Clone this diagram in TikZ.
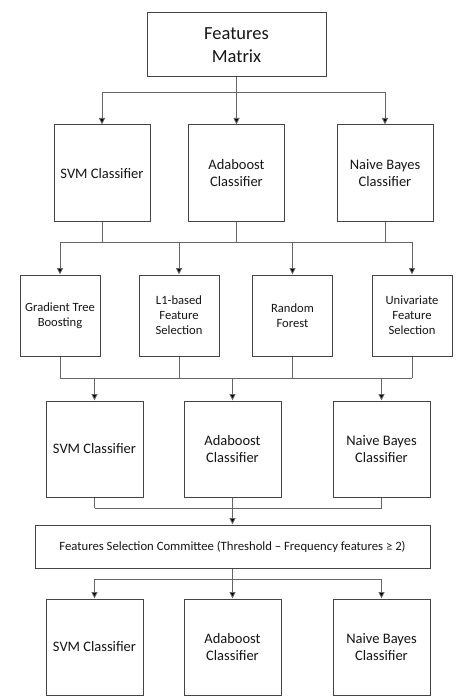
\documentclass[tikz,border=0pt]{standalone}
\usepackage{fontspec}
\setmainfont{Carlito}
\usetikzlibrary{arrows.meta}
\definecolor{boxc}{HTML}{444444}
\definecolor{linec}{HTML}{666666}
\definecolor{txt}{HTML}{161616}
\tikzset{
  box/.style={draw=boxc, line width=1pt, fill=white, text=txt, align=center, inner sep=2pt},
  ln/.style={draw=linec, line width=0.9pt},
  arr/.style={ln, -{Triangle[length=6.5pt,width=6pt,fill=black]}},
  bigt/.style={font=\fontsize{18.5}{23}\selectfont},
  medt/.style={font=\fontsize{14.5}{17}\selectfont},
  smt/.style={font=\fontsize{12.6}{15}\selectfont},
  comt/.style={font=\fontsize{12.7}{14}\selectfont},
}
\begin{document}
\begin{tikzpicture}[x=1pt,y=-1pt]
\useasboundingbox (0,0) rectangle (474,700);
% top
\node[box,bigt,minimum width=179pt,minimum height=64pt] (fm) at (236.5,45) {Features\\Matrix};
% row 1
\node[box,medt,minimum width=96pt,minimum height=97pt] (s1) at (102,173.5) {SVM Classifier};
\node[box,medt,minimum width=96pt,minimum height=97pt] (a1) at (236.5,173.5) {Adaboost\\Classifier};
\node[box,medt,minimum width=96pt,minimum height=97pt] (n1) at (385,173.5) {Naive Bayes\\Classifier};
% row 2
\node[box,smt,minimum width=80pt,minimum height=81pt] (g2) at (60,315.5) {Gradient Tree\\Boosting};
\node[box,smt,minimum width=80pt,minimum height=81pt] (l2) at (179,315.5) {L1-based\\Feature\\Selection};
\node[box,smt,minimum width=80pt,minimum height=81pt] (r2) at (292.5,315.5) {Random\\Forest};
\node[box,smt,minimum width=80pt,minimum height=81pt] (u2) at (412,315.5) {Univariate\\Feature\\Selection};
% row 3
\node[box,medt,minimum width=97pt,minimum height=96pt] (s3) at (94.5,449) {SVM Classifier};
\node[box,medt,minimum width=97pt,minimum height=96pt] (a3) at (232.5,449) {Adaboost\\Classifier};
\node[box,medt,minimum width=97pt,minimum height=96pt] (n3) at (381.5,449) {Naive Bayes\\Classifier};
% committee
\node[box,comt,minimum width=395pt,minimum height=43pt] (c) at (232.5,546.5) {Features Selection Committee (Threshold – Frequency features ≥ 2)};
% row 4
\node[box,medt,minimum width=97pt,minimum height=96pt] (s4) at (94.5,647) {SVM Classifier};
\node[box,medt,minimum width=97pt,minimum height=96pt] (a4) at (232.5,647) {Adaboost\\Classifier};
\node[box,medt,minimum width=97pt,minimum height=96pt] (n4) at (381.5,647) {Naive Bayes\\Classifier};
% junction levels
\coordinate (h1) at (0,92);
\coordinate (h2) at (0,242);
\coordinate (h3) at (0,378);
\coordinate (h4) at (0,508);
\coordinate (h5) at (0,579);
% features matrix -> row 1
\draw[ln] (fm.south) -- (fm.south |- h1);
\draw[ln] (s1.north |- h1) -- (n1.north |- h1);
\draw[arr] (s1.north |- h1) -- (s1.north);
\draw[arr] (a1.north |- h1) -- (a1.north);
\draw[arr] (n1.north |- h1) -- (n1.north);
% row 1 -> row 2
\draw[ln] (s1.south) -- (s1.south |- h2);
\draw[ln] (a1.south) -- (a1.south |- h2);
\draw[ln] (n1.south) -- (n1.south |- h2);
\draw[ln] (g2.north |- h2) -- (u2.north |- h2);
\draw[arr] (g2.north |- h2) -- (g2.north);
\draw[arr] (l2.north |- h2) -- (l2.north);
\draw[arr] (r2.north |- h2) -- (r2.north);
\draw[arr] (u2.north |- h2) -- (u2.north);
% row 2 -> row 3
\draw[ln] (g2.south) -- (g2.south |- h3);
\draw[ln] (l2.south) -- (l2.south |- h3);
\draw[ln] (r2.south) -- (r2.south |- h3);
\draw[ln] (u2.south) -- (u2.south |- h3);
\draw[ln] (g2.south |- h3) -- (u2.south |- h3);
\draw[arr] (s3.north |- h3) -- (s3.north);
\draw[arr] (a3.north |- h3) -- (a3.north);
\draw[arr] (n3.north |- h3) -- (n3.north);
% row 3 -> committee
\draw[ln] (s3.south) -- (s3.south |- h4);
\draw[ln] (n3.south) -- (n3.south |- h4);
\draw[ln] (s3.south |- h4) -- (n3.south |- h4);
\draw[ln] (a3.south) -- (a3.south |- h4);
\draw[arr] (a3.south |- h4) -- (c.north);
% committee -> row 4
\draw[ln] (c.south) -- (c.south |- h5);
\draw[ln] (s4.north |- h5) -- (n4.north |- h5);
\draw[arr] (s4.north |- h5) -- (s4.north);
\draw[arr] (a4.north |- h5) -- (a4.north);
\draw[arr] (n4.north |- h5) -- (n4.north);
\end{tikzpicture}
\end{document}
